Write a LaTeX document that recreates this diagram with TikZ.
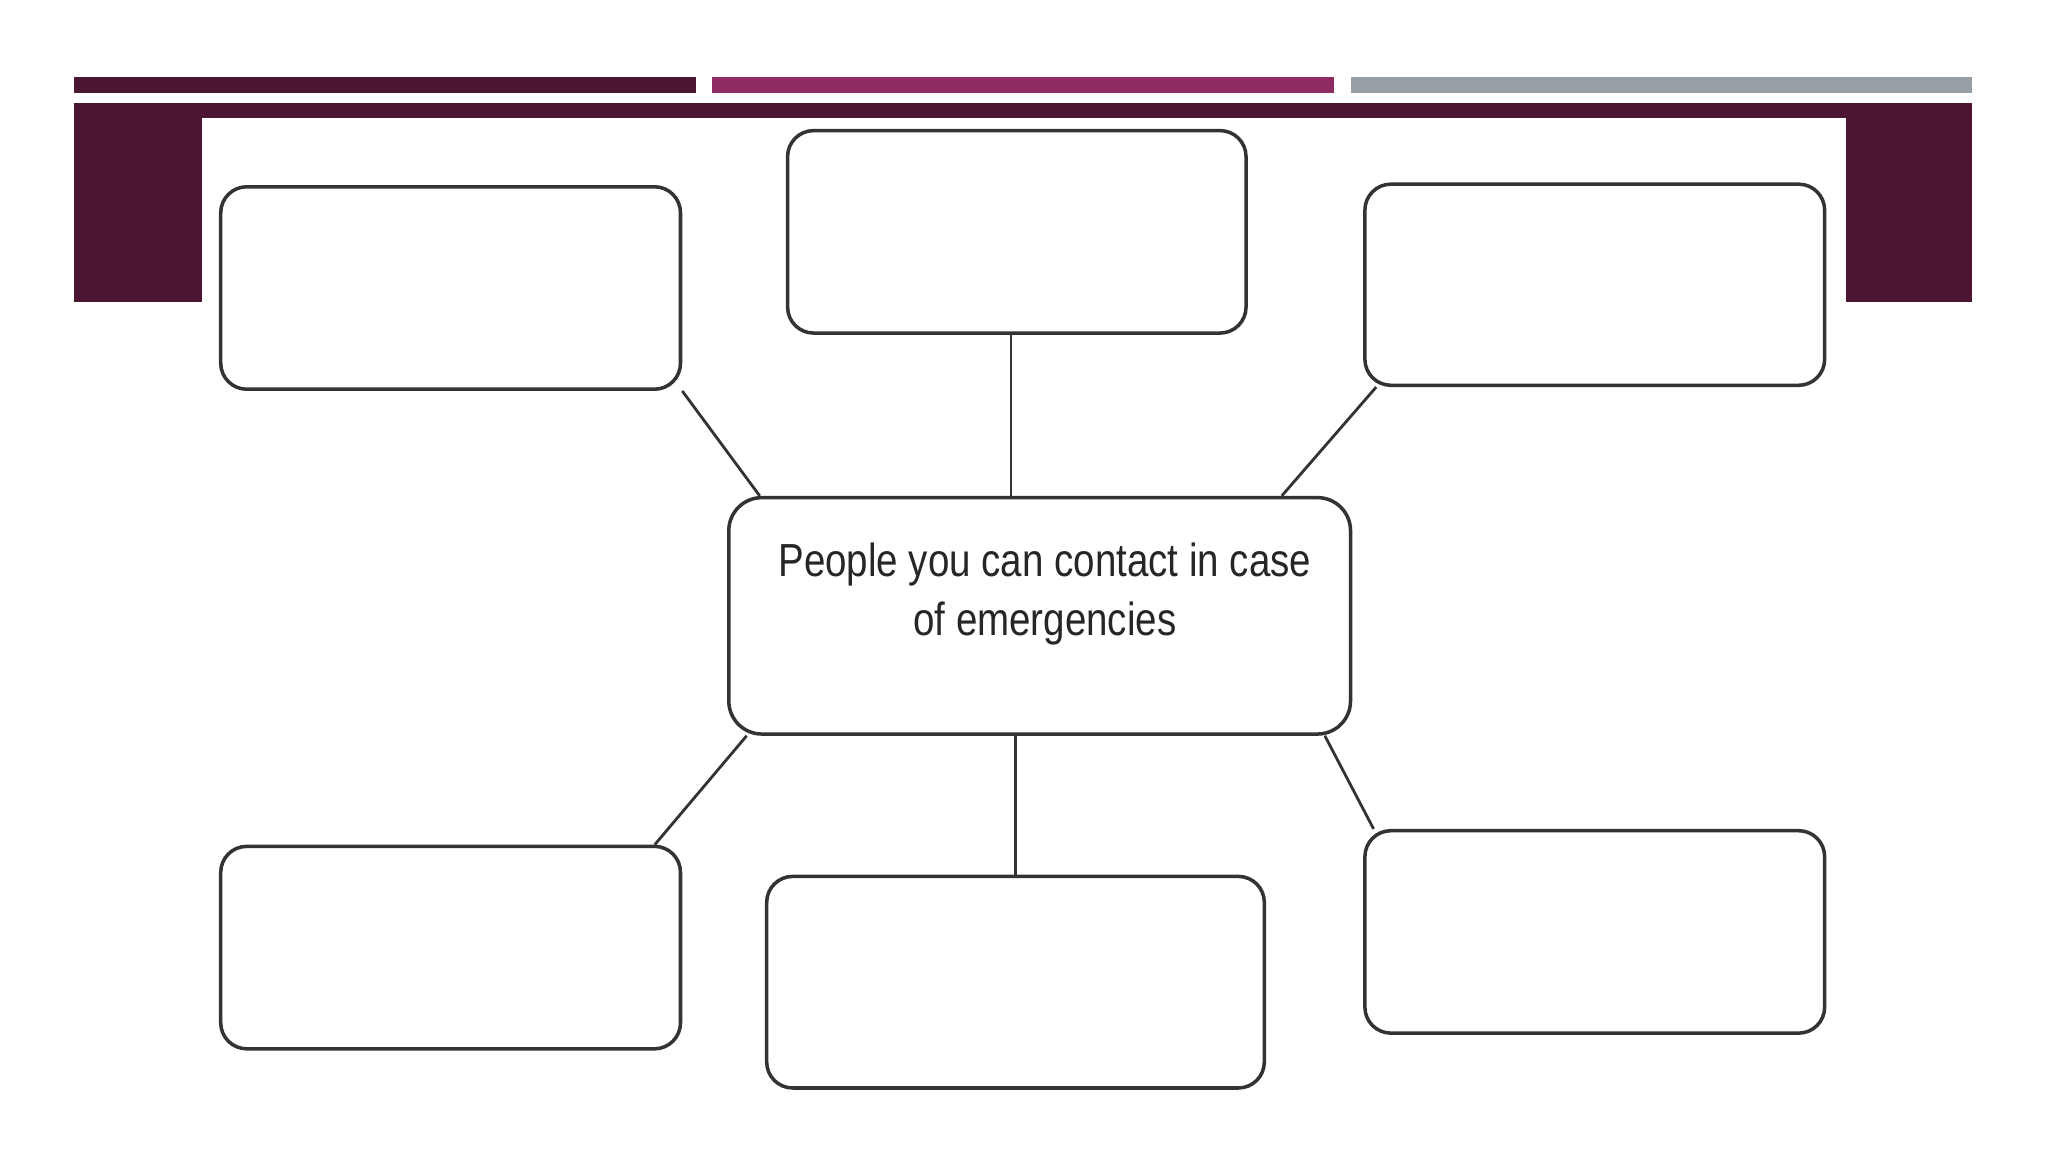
\documentclass[tikz,border=0pt]{standalone}
\usepackage{fontspec}
\setmainfont{Liberation Sans}
\newfontfamily\boxfont{Liberation Sans}[FakeStretch=0.83]
\usetikzlibrary{calc}
\definecolor{maroon}{HTML}{4C1632}
\definecolor{magbar}{HTML}{8E2B62}
\definecolor{graybar}{HTML}{969FA5}
\definecolor{edgegray}{HTML}{333333}
\definecolor{txtgray}{HTML}{262626}
\newcommand{\pxu}{0.013061cm}
\tikzset{
  blank/.style 2 args={draw=edgegray, line width=1pt, fill=white, rounded corners=0.26cm,
     minimum width=#1*\pxu, minimum height=#2*\pxu, inner sep=0pt},
  link/.style={draw=edgegray, line width=0.8pt}
}
\begin{document}
\begin{tikzpicture}[x=\pxu, y=-\pxu]
\useasboundingbox (0,0) rectangle (1568,882);
\fill[white] (0,0) rectangle (1568,882);
% top bars
\fill[maroon] (57,59) rectangle (533,71);
\fill[magbar] (545,59) rectangle (1021,71);
\fill[graybar] (1034,59) rectangle (1510,71);
% frame
\fill[maroon] (57,79) rectangle (1510,90);
\fill[maroon] (57,79) rectangle (155,231);
\fill[maroon] (1413,79) rectangle (1510,231);
% boxes
\node[blank={352}{155}] (tl) at (345,220.5) {};
\node[blank={351}{155}] (tc) at (778.5,177.5) {};
\node[blank={352}{154}] (tr) at (1221,218) {};
\node[blank={476}{181}, rounded corners=0.33cm] (c) at (796,471.5) {};
\node[blank={352}{155}] (bl) at (345,725.5) {};
\node[blank={381}{162}] (bc) at (777.5,752) {};
\node[blank={352}{155}] (br) at (1221,713.5) {};
\node[text=txtgray, font=\boxfont\fontsize{13.2}{16.8}\selectfont, align=center, inner sep=0pt]
   (ct) at (800,455) {People you can contact in case\\of emergencies};
% connectors
\draw[link] (tl.south east) -- ([xshift=25*\pxu]c.north west);
\draw[link] ([xshift=-4.5*\pxu]tc.south) -- ([xshift=-4.5*\pxu]tc.south |- c.north);
\draw[link] ([xshift=10*\pxu]tr.south west) -- ([xshift=-54*\pxu]c.north east);
\draw[link] ([xshift=15*\pxu]c.south west) -- ([xshift=-21*\pxu]bl.north east);
\draw[link] (bc.north) -- (bc.north |- c.south);
\draw[link] ([xshift=-21*\pxu]c.south east) -- ([xshift=8*\pxu]br.north west);
\end{tikzpicture}
\end{document}
